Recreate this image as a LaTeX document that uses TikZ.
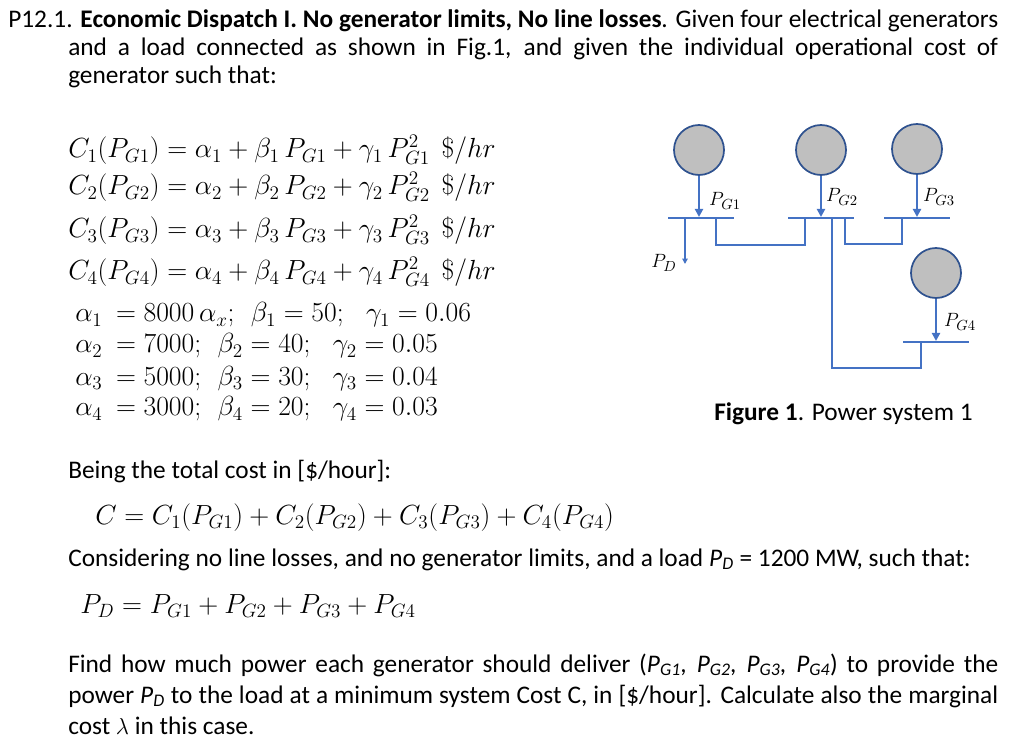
\documentclass[tikz,border=0pt]{standalone}
\usepackage{fontspec}
\setmainfont{Carlito}
\usetikzlibrary{arrows.meta}
\definecolor{lb}{RGB}{68,114,196}
\definecolor{cb}{RGB}{47,82,143}
\begin{document}
\begin{tikzpicture}[x=0.75pt,y=-0.75pt,
  gen/.style={circle,draw=cb,line width=1.3pt,fill=black!25,minimum size=37.5pt,inner sep=0pt},
  bus/.style={draw=lb,line width=2pt},
  ln/.style={draw=lb,line width=1pt},
  garr/.style={draw=lb,line width=2pt,-{Triangle[length=6pt,width=6pt]}},
  txt/.style={anchor=base west,inner sep=0pt,font=\fontsize{19}{21}\selectfont},
  jl/.style={anchor=base west,inner sep=0pt,align=justify,text width=#1,font=\fontsize{19}{21}\selectfont},
  mth/.style={anchor=base west,inner sep=0pt,font=\fontsize{19.5}{22}\selectfont},
  lab/.style={inner sep=0pt,font=\fontsize{15}{17}\selectfont}]
\useasboundingbox (0,0) rectangle (1024,748);
\node[jl=742.5pt] (l1) at (8,28) {P12.1. \textbf{Economic Dispatch I. No generator limits, No line losses}. Given four electrical generators\linebreak};
\node[jl=697.5pt] (l2) at (68,56) {and a load connected as shown in Fig.1, and given the individual operational cost of\linebreak};
\node[txt] (l3) at (68,84) {generator such that:};
\node[mth] (e1) at (68,158) {$C_1(P_{G1})=\alpha_1+\beta_1\,P_{G1}+\gamma_1\,P_{G1}^2\ \ \$/hr$};
\node[mth] (e2) at (68,195) {$C_2(P_{G2})=\alpha_2+\beta_2\,P_{G2}+\gamma_2\,P_{G2}^2\ \ \$/hr$};
\node[mth] (e3) at (68,238) {$C_3(P_{G3})=\alpha_3+\beta_3\,P_{G3}+\gamma_3\,P_{G3}^2\ \ \$/hr$};
\node[mth] (e4) at (68,280) {$C_4(P_{G4})=\alpha_4+\beta_4\,P_{G4}+\gamma_4\,P_{G4}^2\ \ \$/hr$};
\node[mth] (a1) at (75,322) {$\alpha_1\ =8000\,\alpha_x;\ \ \beta_1=50;\ \ \ \gamma_1=0.06$};
\node[mth] (a2) at (75,353) {$\alpha_2\ =7000;\ \ \beta_2=40;\ \ \ \gamma_2=0.05$};
\node[mth] (a3) at (75,385) {$\alpha_3\ =5000;\ \ \beta_3=30;\ \ \ \gamma_3=0.04$};
\node[mth] (a4) at (75,416) {$\alpha_4\ =3000;\ \ \beta_4=20;\ \ \ \gamma_4=0.03$};
\node[txt] (fig) at (714,421) {\textbf{Figure 1}. Power system 1};
\node[txt] (t1) at (68,478) {Being the total cost in [\$/hour]:};
\node[mth] (ec) at (95,524) {$C=C_1(P_{G1})+C_2(P_{G2})+C_3(P_{G3})+C_4(P_{G4})$};
\node[txt] (t2) at (68,566) {Considering no line losses, and no generator limits, and a load \textit{P\textsubscript{D}} = 1200 MW, such that:};
\node[mth] (ep) at (80,613) {$P_D=P_{G1}+P_{G2}+P_{G3}+P_{G4}$};
\node[jl=697.5pt] (f1) at (68,672) {Find how much power each generator should deliver (\textit{P\textsubscript{G1}, P\textsubscript{G2}, P\textsubscript{G3}, P\textsubscript{G4}}) to provide the\linebreak};
\node[jl=697.5pt] (f2) at (68,703) {power \textit{P\textsubscript{D}} to the load at a minimum system Cost C, in [\$/hour]. Calculate also the marginal\linebreak};
\node[txt] (f3) at (68,734) {cost $\lambda$ in this case.};
% diagram
\node[gen] (g1) at (699,150) {};
\node[gen] (g2) at (821,150) {};
\node[gen] (g3) at (917,149) {};
\node[gen] (g4) at (936,273) {};
\coordinate (b1l) at (668,218); \coordinate (b1r) at (734,218);
\coordinate (b2l) at (788,218); \coordinate (b2r) at (854,218);
\coordinate (b3l) at (884,218); \coordinate (b3r) at (950,218);
\coordinate (b4l) at (903,342); \coordinate (b4r) at (969,342);
\draw[bus] (b1l) -- (b1r); \draw[bus] (b2l) -- (b2r);
\draw[bus] (b3l) -- (b3r); \draw[bus] (b4l) -- (b4r);
\coordinate (b1) at (699,217); \coordinate (b2) at (821,217);
\coordinate (b3) at (917,217); \coordinate (b4) at (936,341);
\draw[garr] (g1) -- (b1); \draw[garr] (g2) -- (b2);
\draw[garr] (g3) -- (b3); \draw[garr] (g4) -- (b4);
\coordinate (d0) at (685,219); \coordinate (d1) at (685,264);
\draw[ln,-{Triangle[length=4pt,width=4pt]}] (d0) -- (d1);
\draw[ln] (716,219) |- (805,245) -- (805,219);
\draw[ln] (845,219) |- (902,244) -- (902,219);
\draw[ln] (832,219) |- (921,368) -- (921,343);
\node[lab] (lg1) at (725,201) {$P_{G1}$};
\node[lab] (lg2) at (842,197) {$P_{G2}$};
\node[lab] (lg3) at (939,197) {$P_{G3}$};
\node[lab] (lg4) at (960,322) {$P_{G4}$};
\node[lab] (ld) at (664,263) {$P_D$};
\end{tikzpicture}
\end{document}
